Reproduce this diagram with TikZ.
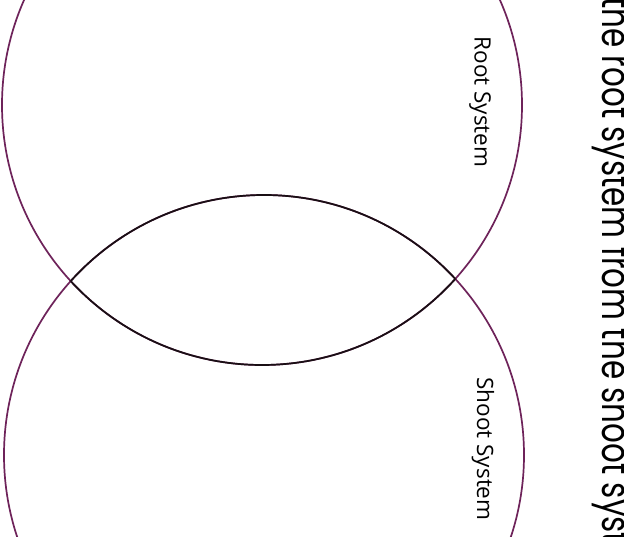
\documentclass[tikz,border=0pt]{standalone}
\usepackage{fontspec}
\setmainfont{Open Sans}
\newfontfamily\bigfont{Poppins}
\definecolor{rimpurple}{RGB}{110,35,90}
\definecolor{lensblack}{RGB}{25,15,20}
\tikzset{
  rimline/.style = {draw=rimpurple, line width=1.7pt},
  lensline/.style = {draw=lensblack, line width=1.7pt},
  setlabel/.style = {rotate=-90, inner sep=0pt, font=\fontsize{22.5}{26}\selectfont},
}
\begin{document}
\begin{tikzpicture}[x = {(1pt, 0pt)}, y = {(0pt, -1pt)}]
  \useasboundingbox (0, 0) rectangle (624, 537);
  \clip (0, 0) rectangle (624, 537);
  \fill[white] (0, 0) rectangle (624, 537);

  \coordinate (rootc) at (262, 105);
  \coordinate (shootc) at (264, 455);

  \draw[rimline] (rootc) circle[radius=260pt];
  \draw[rimline] (shootc) circle[radius=260pt];

  \begin{scope}
    \clip (rootc) circle[radius=260pt];
    \draw[lensline] (shootc) circle[radius=260pt];
  \end{scope}
  \begin{scope}
    \clip (shootc) circle[radius=260pt];
    \draw[lensline] (rootc) circle[radius=260pt];
  \end{scope}

  \node[setlabel] (root) at (480, 102) {Root System};
  \node[setlabel] (shoot) at (483, 449) {Shoot System};

  \node[rotate=-90, anchor=base west, inner sep=0pt,
        font=\bigfont\fontsize{31}{36}\selectfont] (caption) at (602, -3)
        {\scalebox{1}[1.3]{the root system from the shoot system}};
\end{tikzpicture}
\end{document}
